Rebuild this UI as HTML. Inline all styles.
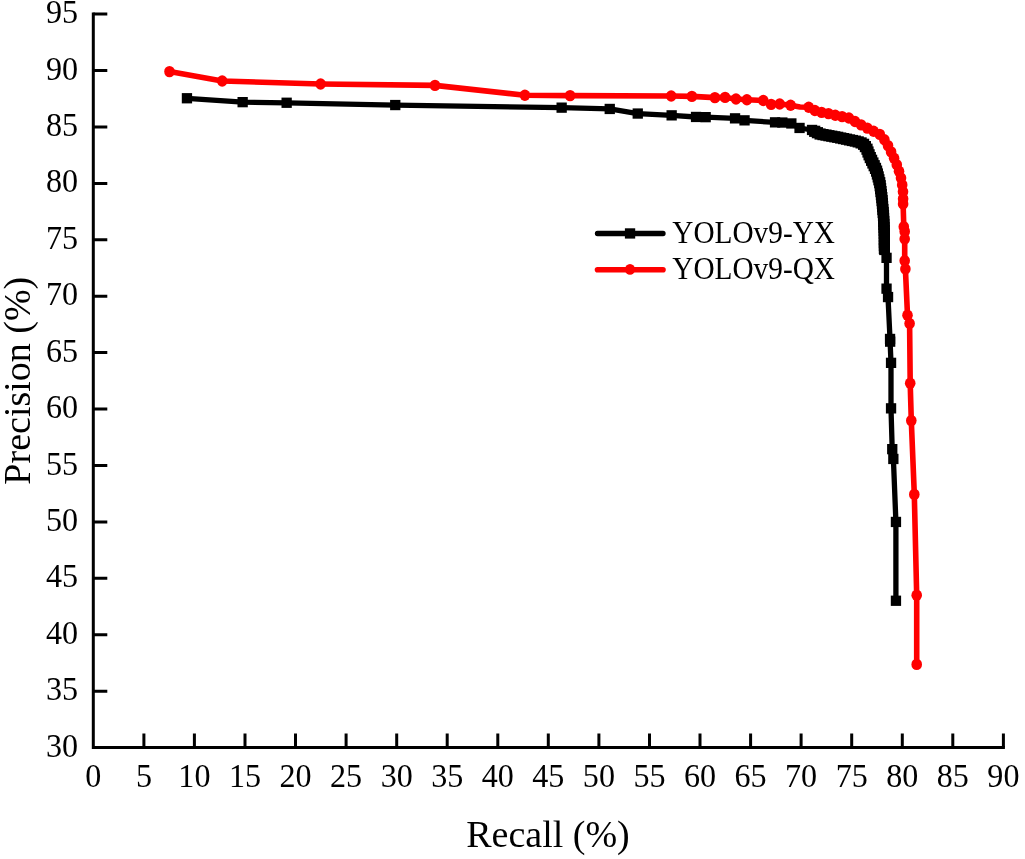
<!DOCTYPE html>
<html><head><meta charset="utf-8"><title>Precision-Recall</title>
<style>
html,body{margin:0;padding:0;background:#fff;}
body{width:1025px;height:859px;overflow:hidden;}
svg{display:block;font-family:"Liberation Serif","Times New Roman",serif;fill:#000;}
.tl{font-size:33.8px;}
.at{font-size:38px;}
.lg{font-size:31px;}
</style></head><body>
<svg width="1025" height="859" viewBox="0 0 1025 859">
<rect width="1025" height="859" fill="#fff"/>
<path d="M93.3 14.1 V747.6 H1003.4" fill="none" stroke="#000" stroke-width="3" stroke-linejoin="miter" stroke-linecap="square"/>
<path d="M93.3 691.2H107.3 M93.3 634.8H107.3 M93.3 578.3H107.3 M93.3 521.9H107.3 M93.3 465.5H107.3 M93.3 409.1H107.3 M93.3 352.6H107.3 M93.3 296.2H107.3 M93.3 239.8H107.3 M93.3 183.4H107.3 M93.3 126.9H107.3 M93.3 70.5H107.3 M93.3 14.1H107.3 M143.9 747.6V733.6 M194.4 747.6V733.6 M245 747.6V733.6 M295.5 747.6V733.6 M346.1 747.6V733.6 M396.7 747.6V733.6 M447.2 747.6V733.6 M497.8 747.6V733.6 M548.3 747.6V733.6 M598.9 747.6V733.6 M649.5 747.6V733.6 M700 747.6V733.6 M750.6 747.6V733.6 M801.1 747.6V733.6 M851.7 747.6V733.6 M902.3 747.6V733.6 M952.8 747.6V733.6 M1003.4 747.6V733.6" fill="none" stroke="#000" stroke-width="3"/>
<g class="tl"><text transform="translate(78 756.6) scale(0.95 1)" text-anchor="end">30</text><text transform="translate(78 700.2) scale(0.95 1)" text-anchor="end">35</text><text transform="translate(78 643.8) scale(0.95 1)" text-anchor="end">40</text><text transform="translate(78 587.3) scale(0.95 1)" text-anchor="end">45</text><text transform="translate(78 530.9) scale(0.95 1)" text-anchor="end">50</text><text transform="translate(78 474.5) scale(0.95 1)" text-anchor="end">55</text><text transform="translate(78 418.1) scale(0.95 1)" text-anchor="end">60</text><text transform="translate(78 361.6) scale(0.95 1)" text-anchor="end">65</text><text transform="translate(78 305.2) scale(0.95 1)" text-anchor="end">70</text><text transform="translate(78 248.8) scale(0.95 1)" text-anchor="end">75</text><text transform="translate(78 192.4) scale(0.95 1)" text-anchor="end">80</text><text transform="translate(78 135.9) scale(0.95 1)" text-anchor="end">85</text><text transform="translate(78 79.5) scale(0.95 1)" text-anchor="end">90</text><text transform="translate(78 23.1) scale(0.95 1)" text-anchor="end">95</text><text transform="translate(93.3 787) scale(0.95 1)" text-anchor="middle">0</text><text transform="translate(143.9 787) scale(0.95 1)" text-anchor="middle">5</text><text transform="translate(194.4 787) scale(0.95 1)" text-anchor="middle">10</text><text transform="translate(245 787) scale(0.95 1)" text-anchor="middle">15</text><text transform="translate(295.5 787) scale(0.95 1)" text-anchor="middle">20</text><text transform="translate(346.1 787) scale(0.95 1)" text-anchor="middle">25</text><text transform="translate(396.7 787) scale(0.95 1)" text-anchor="middle">30</text><text transform="translate(447.2 787) scale(0.95 1)" text-anchor="middle">35</text><text transform="translate(497.8 787) scale(0.95 1)" text-anchor="middle">40</text><text transform="translate(548.3 787) scale(0.95 1)" text-anchor="middle">45</text><text transform="translate(598.9 787) scale(0.95 1)" text-anchor="middle">50</text><text transform="translate(649.5 787) scale(0.95 1)" text-anchor="middle">55</text><text transform="translate(700 787) scale(0.95 1)" text-anchor="middle">60</text><text transform="translate(750.6 787) scale(0.95 1)" text-anchor="middle">65</text><text transform="translate(801.1 787) scale(0.95 1)" text-anchor="middle">70</text><text transform="translate(851.7 787) scale(0.95 1)" text-anchor="middle">75</text><text transform="translate(902.3 787) scale(0.95 1)" text-anchor="middle">80</text><text transform="translate(952.8 787) scale(0.95 1)" text-anchor="middle">85</text><text transform="translate(1003.4 787) scale(0.95 1)" text-anchor="middle">90</text></g>
<text class="at" x="548" y="846.7" text-anchor="middle">Recall (%)</text>
<text class="at" transform="translate(29.6 380.7) rotate(-90)" text-anchor="middle">Precision (%)</text>
<path d="M187 98.3 L242.7 102.2 L286.6 102.8 L395.2 105.1 L561.6 107.7 L609.8 108.9 L637.7 113.6 L671.6 115.4 L696 117 L705.6 117.2 L735 118.4 L744.5 120.4 L775 122.4 L782.4 122.6 L791.4 123.5 L799.5 128 L812 130 L820 134 L838.6 137.5 L857 141.5 L863 143.5 L866.5 148 L870 157 L876.3 170 L879.8 183 L881.5 195 L882.6 206 L883.5 216 L884 226 L884.4 236 L884.4 250 L886.5 257.9 L886.5 288.6 L888 297 L890 338.9 L890.1 341.6 L891 362.8 L891 408.4 L892.2 449.1 L893.4 458.9 L895.9 521.9 L895.9 600.8" fill="none" stroke="#000" stroke-width="5.3" stroke-linejoin="round" stroke-linecap="round"/>
<path d="M169.5 71.6 L222.2 81 L320.6 84 L435 85.4 L524.9 95.2 L570.1 95.6 L671.2 96 L691.9 96.4 L714.9 97.6 L725.1 97.4 L736 99 L746.9 99.8 L763.3 100.5 L771.1 104.4 L779.7 104 L790.6 105.2 L800 107 L808.7 107.3 L817.4 111.7 L829 113.7 L838 116 L848 117.4 L857.2 122.8 L864 126.5 L871 129.8 L880 134.5 L886 141.5 L891.7 153 L896 162.5 L899.5 172.6 L901.8 181 L903 192 L903.1 203.9 L903.8 226.8 L904.7 231.4 L904.7 239 L904.7 260.7 L905.4 269 L907.5 315.2 L909.6 323.5 L910.2 383.2 L911.3 420.6 L914.3 494.4 L916.7 595.2 L916.7 664.4" fill="none" stroke="#f00" stroke-width="5.6" stroke-linejoin="round" stroke-linecap="round"/>
<g fill="#000"><rect x="181.8" y="93.1" width="10.3" height="10.3"/><rect x="237.5" y="97" width="10.3" height="10.3"/><rect x="281.5" y="97.6" width="10.3" height="10.3"/><rect x="390.1" y="99.9" width="10.3" height="10.3"/><rect x="556.5" y="102.5" width="10.3" height="10.3"/><rect x="604.6" y="103.8" width="10.3" height="10.3"/><rect x="632.6" y="108.4" width="10.3" height="10.3"/><rect x="666.5" y="110.2" width="10.3" height="10.3"/><rect x="690.9" y="111.8" width="10.3" height="10.3"/><rect x="700.5" y="112" width="10.3" height="10.3"/><rect x="729.9" y="113.2" width="10.3" height="10.3"/><rect x="739.4" y="115.2" width="10.3" height="10.3"/><rect x="769.9" y="117.2" width="10.3" height="10.3"/><rect x="777.2" y="117.4" width="10.3" height="10.3"/><rect x="786.2" y="118.3" width="10.3" height="10.3"/><rect x="794.4" y="122.8" width="10.3" height="10.3"/><rect x="806.9" y="124.8" width="10.3" height="10.3"/><rect x="879.2" y="244.8" width="10.3" height="10.3"/><rect x="881.4" y="252.7" width="10.3" height="10.3"/><rect x="881.4" y="283.5" width="10.3" height="10.3"/><rect x="882.9" y="291.9" width="10.3" height="10.3"/><rect x="884.9" y="333.8" width="10.3" height="10.3"/><rect x="885" y="336.5" width="10.3" height="10.3"/><rect x="885.9" y="357.7" width="10.3" height="10.3"/><rect x="885.9" y="403.2" width="10.3" height="10.3"/><rect x="887.1" y="444" width="10.3" height="10.3"/><rect x="888.2" y="453.8" width="10.3" height="10.3"/><rect x="890.8" y="516.8" width="10.3" height="10.3"/><rect x="890.8" y="595.6" width="10.3" height="10.3"/><rect x="809.1" y="125.7" width="11.2" height="11.2"/><rect x="811.8" y="127.1" width="11.2" height="11.2"/><rect x="814.5" y="128.4" width="11.2" height="11.2"/><rect x="817.4" y="129" width="11.2" height="11.2"/><rect x="820.4" y="129.5" width="11.2" height="11.2"/><rect x="823.3" y="130.1" width="11.2" height="11.2"/><rect x="826.2" y="130.6" width="11.2" height="11.2"/><rect x="829.2" y="131.2" width="11.2" height="11.2"/><rect x="832.1" y="131.7" width="11.2" height="11.2"/><rect x="835.1" y="132.4" width="11.2" height="11.2"/><rect x="838" y="133" width="11.2" height="11.2"/><rect x="840.9" y="133.6" width="11.2" height="11.2"/><rect x="843.9" y="134.3" width="11.2" height="11.2"/><rect x="846.8" y="134.9" width="11.2" height="11.2"/><rect x="849.7" y="135.5" width="11.2" height="11.2"/><rect x="852.6" y="136.3" width="11.2" height="11.2"/><rect x="855.5" y="137.3" width="11.2" height="11.2"/><rect x="858" y="138.7" width="11.2" height="11.2"/><rect x="859.8" y="141" width="11.2" height="11.2"/><rect x="861.4" y="143.6" width="11.2" height="11.2"/><rect x="862.4" y="146.4" width="11.2" height="11.2"/><rect x="863.5" y="149.2" width="11.2" height="11.2"/><rect x="864.7" y="152" width="11.2" height="11.2"/><rect x="866" y="154.7" width="11.2" height="11.2"/><rect x="867.3" y="157.4" width="11.2" height="11.2"/><rect x="868.6" y="160.1" width="11.2" height="11.2"/><rect x="869.9" y="162.8" width="11.2" height="11.2"/><rect x="871" y="165.5" width="11.2" height="11.2"/><rect x="871.8" y="168.4" width="11.2" height="11.2"/><rect x="872.6" y="171.3" width="11.2" height="11.2"/><rect x="873.3" y="174.2" width="11.2" height="11.2"/><rect x="874.1" y="177.1" width="11.2" height="11.2"/><rect x="874.6" y="180.1" width="11.2" height="11.2"/><rect x="875" y="183.1" width="11.2" height="11.2"/><rect x="875.4" y="186" width="11.2" height="11.2"/><rect x="875.8" y="189" width="11.2" height="11.2"/><rect x="876.2" y="192" width="11.2" height="11.2"/><rect x="876.5" y="195" width="11.2" height="11.2"/><rect x="876.8" y="197.9" width="11.2" height="11.2"/><rect x="877" y="200.9" width="11.2" height="11.2"/><rect x="877.3" y="203.9" width="11.2" height="11.2"/><rect x="877.6" y="206.9" width="11.2" height="11.2"/><rect x="877.9" y="209.9" width="11.2" height="11.2"/><rect x="878" y="212.9" width="11.2" height="11.2"/><rect x="878.2" y="215.9" width="11.2" height="11.2"/><rect x="878.3" y="218.9" width="11.2" height="11.2"/><rect x="878.5" y="221.9" width="11.2" height="11.2"/><rect x="878.6" y="224.9" width="11.2" height="11.2"/><rect x="878.7" y="227.9" width="11.2" height="11.2"/><rect x="878.8" y="230.9" width="11.2" height="11.2"/><rect x="878.8" y="233.9" width="11.2" height="11.2"/><rect x="878.8" y="236.9" width="11.2" height="11.2"/><rect x="878.8" y="239.9" width="11.2" height="11.2"/><rect x="878.8" y="242.9" width="11.2" height="11.2"/></g>
<g fill="#f00"><ellipse cx="169.5" cy="71.6" rx="5.3" ry="5.7"/><ellipse cx="222.2" cy="81" rx="5.3" ry="5.7"/><ellipse cx="320.6" cy="84" rx="5.3" ry="5.7"/><ellipse cx="435" cy="85.4" rx="5.3" ry="5.7"/><ellipse cx="524.9" cy="95.2" rx="5.3" ry="5.7"/><ellipse cx="570.1" cy="95.6" rx="5.3" ry="5.7"/><ellipse cx="671.2" cy="96" rx="5.3" ry="5.7"/><ellipse cx="691.9" cy="96.4" rx="5.3" ry="5.7"/><ellipse cx="714.9" cy="97.6" rx="5.3" ry="5.7"/><ellipse cx="725.1" cy="97.4" rx="5.3" ry="5.7"/><ellipse cx="736" cy="99" rx="5.3" ry="5.7"/><ellipse cx="746.9" cy="99.8" rx="5.3" ry="5.7"/><ellipse cx="763.3" cy="100.5" rx="5.3" ry="5.7"/><ellipse cx="771.1" cy="104.4" rx="5.3" ry="5.7"/><ellipse cx="779.7" cy="104" rx="5.3" ry="5.7"/><ellipse cx="790.6" cy="105.2" rx="5.3" ry="5.7"/><ellipse cx="808.7" cy="107.3" rx="5.3" ry="5.7"/><ellipse cx="814.9" cy="110.5" rx="5.3" ry="5.7"/><ellipse cx="821.6" cy="112.4" rx="5.3" ry="5.7"/><ellipse cx="828.5" cy="113.6" rx="5.3" ry="5.7"/><ellipse cx="835.3" cy="115.3" rx="5.3" ry="5.7"/><ellipse cx="842.1" cy="116.6" rx="5.3" ry="5.7"/><ellipse cx="848.9" cy="118" rx="5.3" ry="5.7"/><ellipse cx="855" cy="121.5" rx="5.3" ry="5.7"/><ellipse cx="861.1" cy="124.9" rx="5.3" ry="5.7"/><ellipse cx="867.3" cy="128.1" rx="5.3" ry="5.7"/><ellipse cx="873.6" cy="131.2" rx="5.3" ry="5.7"/><ellipse cx="879.8" cy="134.4" rx="5.3" ry="5.7"/><ellipse cx="884.4" cy="139.7" rx="5.3" ry="5.7"/><ellipse cx="888" cy="145.6" rx="5.3" ry="5.7"/><ellipse cx="891.1" cy="151.9" rx="5.3" ry="5.7"/><ellipse cx="894.1" cy="158.2" rx="5.3" ry="5.7"/><ellipse cx="896.8" cy="164.7" rx="5.3" ry="5.7"/><ellipse cx="899" cy="171.3" rx="5.3" ry="5.7"/><ellipse cx="901" cy="178" rx="5.3" ry="5.7"/><ellipse cx="902.2" cy="184.9" rx="5.3" ry="5.7"/><ellipse cx="903" cy="191.8" rx="5.3" ry="5.7"/><ellipse cx="903.1" cy="198.8" rx="5.3" ry="5.7"/><ellipse cx="903.1" cy="203.9" rx="5.3" ry="5.7"/><ellipse cx="903.8" cy="226.8" rx="5.3" ry="5.7"/><ellipse cx="904.7" cy="231.4" rx="5.3" ry="5.7"/><ellipse cx="904.7" cy="239" rx="5.3" ry="5.7"/><ellipse cx="904.7" cy="260.7" rx="5.3" ry="5.7"/><ellipse cx="905.4" cy="269" rx="5.3" ry="5.7"/><ellipse cx="907.5" cy="315.2" rx="5.3" ry="5.7"/><ellipse cx="909.6" cy="323.5" rx="5.3" ry="5.7"/><ellipse cx="910.2" cy="383.2" rx="5.3" ry="5.7"/><ellipse cx="911.3" cy="420.6" rx="5.3" ry="5.7"/><ellipse cx="914.3" cy="494.4" rx="5.3" ry="5.7"/><ellipse cx="916.7" cy="595.2" rx="5.3" ry="5.7"/><ellipse cx="916.7" cy="664.4" rx="5.3" ry="5.7"/></g>
<path d="M597.5 233.5H663" stroke="#000" stroke-width="5.3" stroke-linecap="round"/>
<rect x="624.9" y="228.3" width="10.3" height="10.3" fill="#000"/>
<path d="M597.5 269.8H663" stroke="#f00" stroke-width="5.6" stroke-linecap="round"/>
<ellipse cx="630" cy="269.4" rx="5" ry="5.4" fill="#f00"/>
<text class="lg" transform="translate(672.3 242.9) scale(0.945 1)">YOLOv9-YX</text>
<text class="lg" transform="translate(672.3 279.2) scale(0.945 1)">YOLOv9-QX</text>
</svg>
</body></html>
